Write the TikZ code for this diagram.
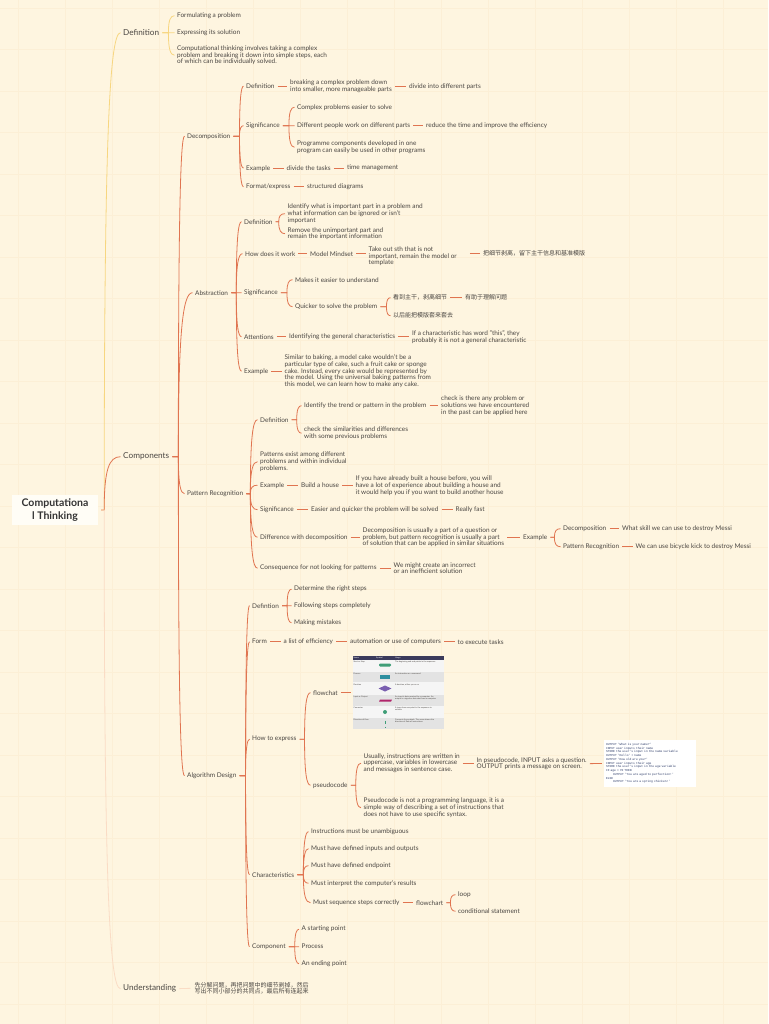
\documentclass[tikz,border=0pt]{standalone}
\usepackage{xcolor}
\usepackage{fontspec}
\setmainfont{Lato}
\setmonofont{Liberation Mono}
\newfontfamily\cjk{Noto Sans CJK SC}
\definecolor{bgpaper}{HTML}{FEF5E0}
\definecolor{gridpaper}{HTML}{FCEFD6}
\definecolor{rootcard}{HTML}{FFFDF6}
\definecolor{textdark}{HTML}{4A4642}
\definecolor{rust}{HTML}{E07450}
\definecolor{maize}{HTML}{F7D680}
\definecolor{blush}{HTML}{FADCC5}
\definecolor{navy}{HTML}{3A3A5C}
\definecolor{codeblue}{HTML}{2B3A67}
\definecolor{flowgreen}{HTML}{3F9E78}
\definecolor{flowteal}{HTML}{2E8FA0}
\definecolor{flowpurple}{HTML}{7A5FB0}
\definecolor{flowpink}{HTML}{B0256B}
\usetikzlibrary{calc}

\begin{document}
\begin{tikzpicture}[
    x=1pt, y=-1pt,
    leaf/.style={anchor=west, align=left, inner sep=0pt, yshift=-0.7pt, text=textdark, font=\fontsize{6.45}{6.7}\selectfont},
    main/.style={anchor=west, inner sep=0pt, yshift=-0.7pt, text=textdark, font=\fontsize{8.2}{9}\selectfont},
    cell/.style={anchor=west, align=left, inner sep=0pt, text=textdark, font=\fontsize{2}{2.4}\selectfont},
    link/.style={rust, line width=0.8pt, shorten <=3pt, shorten >=3pt},
    twig/.style={line width=0.8pt, shorten >=2.5pt, shorten <=3pt, to path={-- ++(#1,0) coordinate (twigj) .. controls ($(twigj)!0.75!(twigj |- \tikztotarget)$) and ($(\tikztotarget)!0.75!(twigj |- \tikztotarget)$) .. (\tikztotarget)}},
    twig/.default=9,
  ]
    \useasboundingbox (0,0) rectangle (768,1024);
    \fill[bgpaper] (0,0) rectangle (768,1024);
    \foreach \gx in {0,...,16} \draw[gridpaper, line width=0.6pt] ({18+47*\gx},0) -- ({18+47*\gx},1024);
    \foreach \gy in {0,...,24} \draw[gridpaper, line width=0.6pt] (0,{8+41.5*\gy}) -- (768,{8+41.5*\gy});

    \node[fill=rootcard, minimum width=86pt, minimum height=30pt, inner sep=0pt, align=center, text=black!80, font=\bfseries\fontsize{10.5}{12.5}\selectfont] (root) at (55,510) {Computationa\\l Thinking};

    \node[main] (defn) at (123,32) {Definition};
    \node[main] (comp) at (123,456) {Components};
    \node[main] (under) at (123,988) {Understanding};
    \draw[twig=6, maize] (root.east) to (defn.west);
    \draw[twig=6, rust] (root.east) to (comp.west);
    \draw[twig=6, blush] (root.east) to (under.west);

    \node[leaf] (form) at (177,15) {Formulating a problem};
    \node[leaf] (expr) at (177,32) {Expressing its solution};
    \node[leaf] (ctdesc) at (177,54.5) {Computational thinking involves taking a complex\\problem and breaking it down into simple steps, each\\of which can be individually solved.};
    \draw[twig, maize] (defn.east) to (form.west);
    \draw[twig, maize] (defn.east) to (expr.west);
    \draw[twig, maize] (defn.east) to (ctdesc.west);

    \node[leaf, font=\fontsize{6}{6.7}\selectfont] (undertxt) at (194.5,987.5) {{\cjk 先分解问题，再把问题中的细节剥掉，然后}\\{\cjk 写出不同小部分的共同点，最后所有连起来}};
    \draw[blush, line width=0.8pt, shorten <=3pt, shorten >=4pt] (under.east) -- (undertxt.west);

    \node[leaf] (dec) at (187,135.5) {Decomposition};
    \node[leaf] (abst) at (195,292) {Abstraction};
    \node[leaf] (patt) at (187,493) {Pattern Recognition};
    \node[leaf] (algo) at (187,775) {Algorithm Design};
    \draw[twig, rust] (comp.east) to (dec.west);
    \draw[twig, rust] (comp.east) to (abst.west);
    \draw[twig, rust] (comp.east) to (patt.west);
    \draw[twig, rust] (comp.east) to (algo.west);

    \node[leaf] (decdef) at (246,85.5) {Definition};
    \node[leaf] (decsig) at (246,125) {Significance};
    \node[leaf] (decex) at (246,167.5) {Example};
    \node[leaf] (decfmt) at (246,186) {Format/express};
    \draw[twig, rust] (dec.east) to (decdef.west);
    \draw[twig, rust] (dec.east) to (decsig.west);
    \draw[twig, rust] (dec.east) to (decex.west);
    \draw[twig, rust] (dec.east) to (decfmt.west);
    \node[leaf] (decdefa) at (290,85.5) {breaking a complex problem down\\into smaller, more manageable parts};
    \node[leaf] (decdefb) at (409,85.5) {divide into different parts};
    \draw[link] (decdef.east) -- (decdefa.west);
    \draw[link] (decdefa.east) -- (decdefb.west);
    \node[leaf] (decsiga) at (297,106.5) {Complex problems easier to solve};
    \node[leaf] (decsigb) at (297,125) {Different people work on different parts};
    \node[leaf] (decsigc) at (297,146.5) {Programme components developed in one\\program can easily be used in other programs};
    \node[leaf] (decsigd) at (426,125) {reduce the time and improve the efficiency};
    \draw[twig, rust] (decsig.east) to (decsiga.west);
    \draw[twig, rust] (decsig.east) to (decsigb.west);
    \draw[twig, rust] (decsig.east) to (decsigc.west);
    \draw[link] (decsigb.east) -- (decsigd.west);
    \node[leaf] (decexa) at (286.5,167.5) {divide the tasks};
    \node[leaf] (decexb) at (347,167.5) {time management};
    \draw[link] (decex.east) -- (decexa.west);
    \draw[link] (decexa.east) -- (decexb.west);
    \node[leaf] (decfmta) at (307,186) {structured diagrams};
    \draw[link] (decfmt.east) -- (decfmta.west);

    \node[leaf] (absdef) at (244,221) {Definition};
    \node[leaf] (abshow) at (245,253) {How does it work};
    \node[leaf] (abssig) at (244,292) {Significance};
    \node[leaf] (absatt) at (244,336) {Attentions};
    \node[leaf] (absex) at (244,370.5) {Example};
    \draw[twig=8, rust] (abst.east) to (absdef.west);
    \draw[twig=8, rust] (abst.east) to (abshow.west);
    \draw[twig=8, rust] (abst.east) to (abssig.west);
    \draw[twig=8, rust] (abst.east) to (absatt.west);
    \draw[twig=8, rust] (abst.east) to (absex.west);
    \node[leaf] (absdefa) at (287.5,213) {Identify what is important part in a problem and\\what information can be ignored or isn't\\important};
    \node[leaf] (absdefb) at (287.5,233) {Remove the unimportant part and\\remain the important information};
    \draw[twig=6, rust] (absdef.east) to (absdefa.west);
    \draw[twig=6, rust] (absdef.east) to (absdefb.west);
    \node[leaf] (abshowa) at (310,253) {Model Mindset};
    \node[leaf] (abshowb) at (368.5,255.5) {Take out sth that is not\\important, remain the model or\\template};
    \node[leaf, font=\fontsize{6}{6.7}\selectfont] (abshowc) at (483,253) {\cjk 把细节剥离，留下主干信息和基准模版};
    \draw[link] (abshow.east) -- (abshowa.west);
    \draw[link] (abshowa.east) -- (abshowb.west |- abshowa.east);
    \draw[link, shorten <=13pt] (abshowb.east |- abshowc.west) -- (abshowc.west);
    \node[leaf] (abssiga) at (295,279) {Makes it easier to understand};
    \node[leaf] (abssigb) at (295,306) {Quicker to solve the problem};
    \draw[twig, rust] (abssig.east) to (abssiga.west);
    \draw[twig, rust] (abssig.east) to (abssigb.west);
    \node[leaf, font=\fontsize{6}{6.7}\selectfont] (abssigc) at (393,297) {\cjk 看到主干，剥离细节};
    \node[leaf, font=\fontsize{6}{6.7}\selectfont] (abssigd) at (393,315) {\cjk 以后能把模版套来套去};
    \node[leaf, font=\fontsize{6}{6.7}\selectfont] (abssige) at (465,297) {\cjk 有助于理解问题};
    \draw[twig, rust] (abssigb.east) to (abssigc.west);
    \draw[twig, rust] (abssigb.east) to (abssigd.west);
    \draw[link] (abssigc.east) -- (abssige.west);
    \node[leaf] (absatta) at (289,336) {Identifying the general characteristics};
    \node[leaf] (absattb) at (412,336.5) {If a characteristic has word "this", they\\probably it is not a general characteristic};
    \draw[link] (absatt.east) -- (absatta.west);
    \draw[link] (absatta.east) -- (absattb.west |- absatta.east);
    \node[leaf] (absexa) at (284.5,370.5) {Similar to baking, a model cake wouldn't be a\\particular type of cake, such a fruit cake or sponge\\cake. Instead, every cake would be represented by\\the model. Using the universal baking patterns from\\this model, we can learn how to make any cake.};
    \draw[link] (absex.east) -- (absexa.west);

    \node[leaf] (patdef) at (260,419) {Definition};
    \node[leaf] (patsay) at (260,461) {Patterns exist among different\\problems and within individual\\problems.};
    \node[leaf] (patex) at (260,484.5) {Example};
    \node[leaf] (patsig) at (260,509) {Significance};
    \node[leaf] (patdif) at (260,536.5) {Difference with decomposition};
    \node[leaf] (patcon) at (260,567.5) {Consequence for not looking for patterns};
    \draw[twig=7, rust] (patt.east) to (patdef.west);
    \draw[twig=7, rust] (patt.east) to (patsay.west);
    \draw[twig=7, rust] (patt.east) to (patex.west);
    \draw[twig=7, rust] (patt.east) to (patsig.west);
    \draw[twig=7, rust] (patt.east) to (patdif.west);
    \draw[twig=7, rust] (patt.east) to (patcon.west);
    \node[leaf] (patdefa) at (304,405) {Identify the trend or pattern in the problem};
    \node[leaf] (patdefb) at (304,432.5) {check the similarities and differences\\with some previous problems};
    \node[leaf] (patdefc) at (441,405) {check is there any problem or\\solutions we have encountered\\in the past can be applied here};
    \draw[twig=8, rust] (patdef.east) to (patdefa.west);
    \draw[twig=8, rust] (patdef.east) to (patdefb.west);
    \draw[link] (patdefa.east) -- (patdefc.west);
    \node[leaf] (patexa) at (301,484.5) {Build a house};
    \node[leaf] (patexb) at (355.5,485) {If you have already built a house before, you will\\have a lot of experience about building a house and\\it would help you if you want to build another house};
    \draw[link] (patex.east) -- (patexa.west);
    \draw[link] (patexa.east) -- (patexb.west |- patexa.east);
    \node[leaf] (patsiga) at (311,509) {Easier and quicker the problem will be solved};
    \node[leaf] (patsigb) at (455.5,509) {Really fast};
    \draw[link] (patsig.east) -- (patsiga.west);
    \draw[link] (patsiga.east) -- (patsigb.west);
    \node[leaf] (patdifa) at (362.5,536.5) {Decomposition is usually a part of a question or\\problem, but pattern recognition is usually a part\\of solution that can be applied in similar situations};
    \node[leaf] (patdifb) at (523,536.5) {Example};
    \node[leaf] (patdifc) at (563,528) {Decomposition};
    \node[leaf] (patdifd) at (563,546) {Pattern Recognition};
    \node[leaf] (patdife) at (622,528) {What skill we can use to destroy Messi};
    \node[leaf] (patdiff) at (635.5,546) {We can use bicycle kick to destroy Messi};
    \draw[link] (patdif.east) -- (patdifa.west);
    \draw[link] (patdifa.east) -- (patdifb.west);
    \draw[twig=7, rust] (patdifb.east) to (patdifc.west);
    \draw[twig=7, rust] (patdifb.east) to (patdifd.west);
    \draw[link] (patdifc.east) -- (patdife.west);
    \draw[link] (patdifd.east) -- (patdiff.west);
    \node[leaf] (patcona) at (393.5,567.5) {We might create an incorrect\\or an inefficient solution};
    \draw[link] (patcon.east) -- (patcona.west);

    \node[leaf] (algdef) at (252,605) {Defintion};
    \node[leaf] (algform) at (252,641) {Form};
    \node[leaf] (alghow) at (252,738.5) {How to express};
    \node[leaf] (algcha) at (252,874) {Characteristics};
    \node[leaf] (algcom) at (252,946) {Component};
    \draw[twig, rust] (algo.east) to (algdef.west);
    \draw[twig, rust] (algo.east) to (algform.west);
    \draw[twig, rust] (algo.east) to (alghow.west);
    \draw[twig, rust] (algo.east) to (algcha.west);
    \draw[twig, rust] (algo.east) to (algcom.west);
    \node[leaf] (algdefa) at (294,588.5) {Determine the right steps};
    \node[leaf] (algdefb) at (294,605) {Following steps completely};
    \node[leaf] (algdefc) at (294,622) {Making mistakes};
    \draw[twig=8, rust] (algdef.east) to (algdefa.west);
    \draw[twig=8, rust] (algdef.east) to (algdefb.west);
    \draw[twig=8, rust] (algdef.east) to (algdefc.west);
    \node[leaf] (algforma) at (283.5,641) {a list of efficiency};
    \node[leaf] (algformb) at (350,641) {automation or use of computers};
    \node[leaf] (algformc) at (457.5,641) {to execute tasks};
    \draw[link] (algform.east) -- (algforma.west);
    \draw[link] (algforma.east) -- (algformb.west);
    \draw[link] (algformb.east) -- (algformc.west);

    \node[leaf] (flowchat) at (313,692) {flowchat};
    \node[leaf] (pseudo) at (313,784.5) {pseudocode};
    \draw[twig=8, rust] (alghow.east) to (flowchat.west);
    \draw[twig=8, rust] (alghow.east) to (pseudo.west);

    \node[fill=black!4, minimum width=91.6pt, minimum height=72.6pt, inner sep=0pt] (flowimg) at (398.5,692.4) {};
    \draw[link, shorten >=2pt] (flowchat.east) -- (flowimg.west |- flowchat.east);
    \fill[navy] (352.7,656) rectangle (444.3,660);
    \fill[black!11] (352.7,672) rectangle (444.3,682);
    \fill[black!11] (352.7,695) rectangle (444.3,706);
    \fill[black!11] (352.7,718) rectangle (444.3,728.7);
    \node[cell, text=white] (hname) at (353.5,658) {Name};
    \node[cell, text=white] (hsym) at (376,658) {Symbol};
    \node[cell, text=white] (huse) at (395,658) {Usage};
    \node[cell] (rstart) at (353.5,662) {Start or Stop};
    \node[cell] (rproc) at (353.5,674) {Process};
    \node[cell] (rdec) at (353.5,684.5) {Decision};
    \node[cell] (rio) at (353.5,697) {Input or Output};
    \node[cell] (rcon) at (353.5,708) {Connector};
    \node[cell] (rdir) at (353.5,720) {Direction of flow};
    \node[cell] (ustart) at (395,662) {The beginning and end points in the sequence};
    \node[cell] (uproc) at (395,674) {An instruction or a command};
    \node[cell] (udec) at (395,684.5) {A decision, either yes or no};
    \node[cell] (uio) at (395,698) {An input is data received by a computer. An\\output is a signal or data sent from a computer};
    \node[cell] (ucon) at (395,709) {A jump from one point in the sequence to\\another};
    \node[cell] (udir) at (395,721) {Connects the symbols. The arrow shows the\\direction of flow of instructions};
    \node[fill=flowgreen, rounded corners=1.2pt, minimum width=12pt, minimum height=3pt, inner sep=0pt] (symstart) at (385,665) {};
    \node[fill=flowteal, minimum width=10pt, minimum height=3.5pt, inner sep=0pt] (symproc) at (385,677) {};
    \fill[flowpurple] (378.5,688.5) -- (385,685.5) -- (391.5,688.5) -- (385,691.5) -- cycle;
    \fill[flowpink] (379,701.7) -- (380,699.7) -- (392,699.7) -- (391,701.7) -- cycle;
    \node[circle, fill=flowgreen, minimum size=4pt, inner sep=0pt] (symcon) at (385,712) {};
    \draw[flowgreen, line width=0.4pt, dashed] (385,720.5) -- (385,727);

    \node[leaf] (pseuda) at (363.5,762.5) {Usually, instructions are written in\\uppercase, variables in lowercase\\and messages in sentence case.};
    \node[leaf] (pseudb) at (363.5,807) {Pseudocode is not a programming language, it is a\\simple way of describing a set of instructions that\\does not have to use specific syntax.};
    \node[leaf] (pseudc) at (476.5,763) {In pseudocode, INPUT asks a question.\\OUTPUT prints a message on screen.};
    \draw[twig=8, rust] (pseudo.east) to (pseuda.west);
    \draw[twig=8, rust] (pseudo.east) to (pseudb.west);
    \draw[link] (pseuda.east) -- (pseudc.west |- pseuda.east);
    \node[fill=white, text=codeblue, text width=88pt, minimum height=46.7pt, inner sep=2pt, align=left, font=\ttfamily\fontsize{3}{3.75}\selectfont] (codeimg) at (650,763.4) {OUTPUT 'What is your name?'\\INPUT user inputs their name\\STORE the user's input in the name variable\\OUTPUT 'Hello' + name\\OUTPUT 'How old are you?'\\INPUT user inputs their age\\STORE the user's input in the age variable\\IF age > 70 THEN\\\hspace*{7pt}OUTPUT 'You are aged to perfection!'\\ELSE\\\hspace*{7pt}OUTPUT 'You are a spring chicken!'};
    \draw[link, shorten >=2pt] (pseudc.east) -- (codeimg.west);

    \node[leaf] (chaa) at (311,831) {Instructions must be unambiguous};
    \node[leaf] (chab) at (311,848) {Must have defined inputs and outputs};
    \node[leaf] (chac) at (311,865) {Must have defined endpoint};
    \node[leaf] (chad) at (311,882.5) {Must interpret the computer's results};
    \node[leaf] (chae) at (313,902) {Must sequence steps correctly};
    \draw[twig, rust] (algcha.east) to (chaa.west);
    \draw[twig, rust] (algcha.east) to (chab.west);
    \draw[twig, rust] (algcha.east) to (chac.west);
    \draw[twig, rust] (algcha.east) to (chad.west);
    \draw[twig, rust] (algcha.east) to (chae.west);
    \node[leaf] (chaf) at (416,902) {flowchart};
    \node[leaf] (chag) at (458,894) {loop};
    \node[leaf] (chah) at (458,910.5) {conditional statement};
    \draw[link] (chae.east) -- (chaf.west);
    \draw[twig=7, rust] (chaf.east) to (chag.west);
    \draw[twig=7, rust] (chaf.east) to (chah.west);

    \node[leaf] (coma) at (301.5,928.5) {A starting point};
    \node[leaf] (comb) at (301.5,946) {Process};
    \node[leaf] (comc) at (301.5,963) {An ending point};
    \draw[twig, rust] (algcom.east) to (coma.west);
    \draw[twig, rust] (algcom.east) to (comb.west);
    \draw[twig, rust] (algcom.east) to (comc.west);
  \end{tikzpicture}
\end{document}
